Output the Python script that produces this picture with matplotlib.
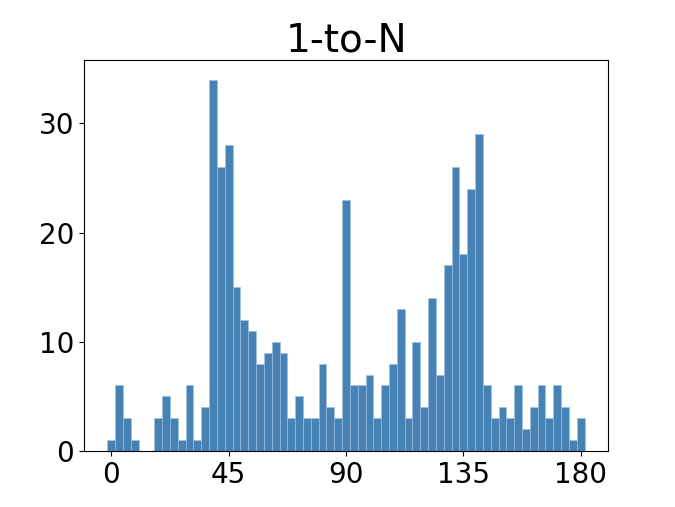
import matplotlib
matplotlib.use("Agg")
import matplotlib.pyplot as plt
import numpy as np

bin_centers = list(range(0, 181, 3))
counts = [1,6,3,1,0,0,3,5,3,1,6,1,4,34,26,28,15,12,11,8,9,10,9,3,5,3,3,8,4,3,
          23,6,6,7,3,6,8,13,3,10,4,14,7,17,26,18,24,29,6,3,4,3,6,2,4,6,3,6,4,1,3]
xticks = [0, 45, 90, 135, 180]

fig = plt.figure(figsize=(6.75, 5.07), dpi=100)
ax = fig.add_axes([84/675, 56/507, 524/675, 391/507])
ax.bar(bin_centers, counts, width=3, color="steelblue", edgecolor="#9fc0dd", linewidth=0.4)
ax.set_xlim(-10.5, 190.5)
ax.set_ylim(0, 35.8)
ax.set_xticks(xticks)
ax.set_yticks([0, 10, 20, 30])
ax.tick_params(labelsize=20)
ax.set_title("1-to-N", fontsize=28)
fig.savefig("out.png", dpi=100)
